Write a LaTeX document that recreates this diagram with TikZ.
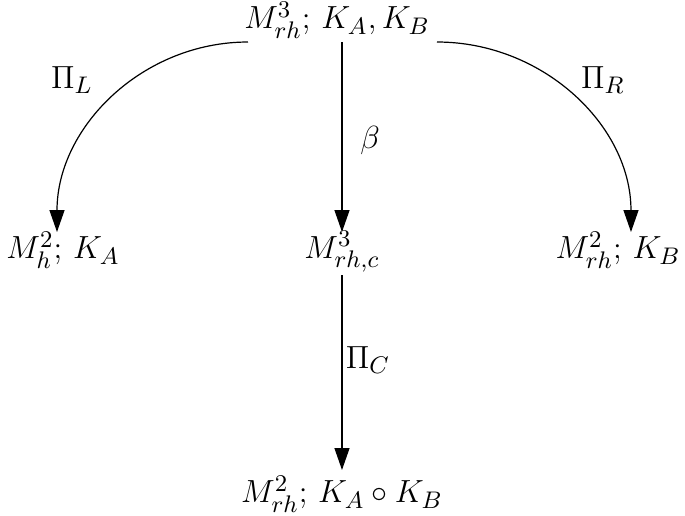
\documentclass[tikz,border=0pt]{standalone}
\usetikzlibrary{arrows.meta}
\begin{document}
\begin{tikzpicture}[x=0.375pt,y=-0.375pt,
  lbl/.style={inner sep=0pt, font=\fontsize{13}{15}\selectfont},
  arr/.style={line width=0.45pt, -{Triangle[width=5.6pt,length=8.2pt]}}]
\useasboundingbox (0,0) rectangle (685,516);
\node[lbl] (top) at (337,20) {$M^3_{rh};\,K_A, K_B$};
\node[lbl] (left) at (63,250) {$M^2_{h};\,K_A$};
\node[lbl] (mid) at (342,252) {$M^3_{rh,c}$};
\node[lbl] (right) at (618,250) {$M^2_{rh};\,K_B$};
\node[lbl] (bot) at (342,494) {$M^2_{rh};\,K_A\circ K_B$};
\coordinate (ls) at (248,42);
\coordinate (rs) at (437,42);
\coordinate (ms) at (342,42);
\coordinate (lt) at (57,232);
\coordinate (rt) at (631,232);
\coordinate (mt) at (342,232);
\coordinate (ms2) at (342,275);
\coordinate (bt) at (342,470);
\draw[arr] (ls) to[out=180,in=90] (lt);
\draw[arr] (rs) to[out=0,in=90] (rt);
\draw[arr] (ms) -- (mt);
\draw[arr] (ms2) -- (bt);
\node[lbl] (pl) at (72,80) {$\Pi_L$};
\node[lbl] (pr) at (603,80) {$\Pi_R$};
\node[lbl] (b) at (370,140) {$\beta$};
\node[lbl] (pc) at (368,360) {$\Pi_C$};
\end{tikzpicture}
\end{document}
